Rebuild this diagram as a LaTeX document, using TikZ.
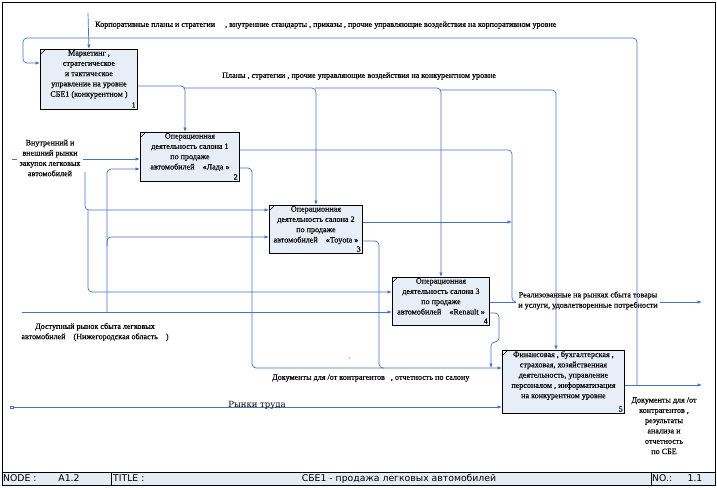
\documentclass[tikz,border=0pt]{standalone}
\usepackage{fontspec}
\setmainfont{Liberation Serif}[FakeBold=0.3]
\newfontfamily\barrafont{DejaVu Sans}
\newfontfamily\rotfont{DejaVu Serif}
\usetikzlibrary{arrows.meta,positioning}
\definecolor{azul}{RGB}{68,114,196}
\definecolor{cajafondo}{RGB}{232,238,248}
\definecolor{barrafondo}{RGB}{230,236,245}
\tikzset{
	caja/.style={draw, fill=cajafondo, line width=0.9pt, inner sep=0pt, anchor=north west},
	textocaja/.style={align=center, inner sep=1pt, anchor=north, font=\fontsize{8.1}{10.3}\selectfont},
	numcaja/.style={anchor=south east, inner sep=2pt, font=\fontsize{8.1}{9}\selectfont},
	etiqueta/.style={inner sep=2pt, font=\fontsize{8.1}{10.3}\selectfont},
	barra/.style={inner sep=1pt, font=\barrafont\fontsize{9.3}{10}\selectfont},
	linea/.style={draw=azul, line width=0.7pt},
	flecha/.style={linea, -{Latex[length=4.5pt,width=3.5pt]}},
	esq/.style={rounded corners=4pt}
}
\begin{document}
\begin{tikzpicture}[x=1pt, y=-1pt]
	\useasboundingbox (0,0) rectangle (717,487);
		% Marco
			\fill[barrafondo] (2,472) rectangle (715,485);
			\draw[line width=0.9pt] (2,2) rectangle (715,485);
			\draw[line width=0.9pt] (2,472) -- (715,472) (111,472) -- (111,485) (651,472) -- (651,485);
			\node[barra, anchor=west] (nodo) at (2,478.5) {NODE :};
			\node[barra] (nodonum) at (69,478.5) {A1.2};
			\node[barra, anchor=west] (tit) at (112,478.5) {TITLE :};
			\node[barra] (titulo) at (399,478.5) {СБЕ1 - продажа легковых автомобилей};
			\node[barra, anchor=west] (num) at (651,478.5) {NO.:};
			\node[barra] (numval) at (695,478.5) {1.1};
		% Bloques
			\node[caja, minimum width=97pt, minimum height=60pt] (b1) at (40,49) {};
			\node[caja, minimum width=99pt, minimum height=49pt] (b2) at (140,132) {};
			\node[caja, minimum width=93pt, minimum height=48pt] (b3) at (269,205) {};
			\node[caja, minimum width=97pt, minimum height=48pt] (b4) at (392,277) {};
			\node[caja, minimum width=122pt, minimum height=63pt] (b5) at (502,350) {};
			\foreach \b in {b1,b2,b3,b4,b5}
				\draw (\b.north west) ++(1,5) -- ++(4,-4);
			% Textos
				\node[textocaja] (t1) at (b1.north) {Маркетинг ,\\стратегическое\\и тактическое\\управление на уровне\\СБЕ1 (конкурентном )};
				\node[textocaja] (t2) at (b2.north) {Операционная\\деятельность салона 1\\по продаже\\автомобилей\quad«Лада »};
				\node[textocaja] (t3) at (b3.north) {Операционная\\деятельность салона 2\\по продаже\\автомобилей\quad«Toyota »};
				\node[textocaja] (t4) at (b4.north) {Операционная\\деятельность салона 3\\по продаже\\автомобилей\quad«Renault »};
				\node[textocaja] (t5) at (b5.north) {Финансовая , бухгалтерская ,\\страховая, хозяйственная\\деятельность, управление\\персоналом , информатизация\\на конкурентном уровне};
			% Numeros
				\node[numcaja] (n1) at (b1.south east) {1};
				\node[numcaja] (n2) at (b2.south east) {2};
				\node[numcaja] (n3) at (b3.south east) {3};
				\node[numcaja] (n4) at (b4.south east) {4};
				\node[numcaja] (n5) at (b5.south east) {5};
		% Controles
			\node[etiqueta, anchor=west] (lc1) at (93,25) {Корпоративные планы и стратегии\hspace{10pt}, внутренние стандарты , приказы , прочие управляющие воздействия на корпоративном уровне};
			\node[etiqueta, anchor=west] (lc2) at (220,76) {Планы , стратегии , прочие управляющие воздействия на конкурентном уровне};
			\draw[flecha] (88,13) -- (b1.north);
			\draw[flecha, esq] (b1.east |- 0,86) -| (185,0 |- b2.north);
			\draw[flecha, esq] (183,88) -| (b3.north);
			\draw[flecha, esq] (315,88) -| (b4.north);
			\draw[flecha, esq] (440,90) -| (556,0 |- b5.north);
		% Entradas
			% Mercados de compra
				\node[etiqueta, align=center] (le1) at (50,158) {Внутренний и\\внешний рынки\\закупок легковых\\автомобилей};
				\draw[linea] (12,159) -- (le1.west |- 0,159);
				\draw[flecha] (le1.east |- 0,159) -- (b2.west |- 0,159);
				\draw[flecha, esq] (85,172) |- (b3.west |- 0,210);
				\draw[flecha, esq] (88,210) |- (b4.west |- 0,292);
			% Mercado de venta
				\node[etiqueta, align=center] (le2) at (95,332) {Доступный рынок сбыта легковых\\автомобилей\hspace{8pt}(Нижегородская область\hspace{8pt})};
				\draw[flecha] (22,312) -- (b4.west |- 0,312);
				\draw[flecha, esq] (107,312) |- (b2.west |- 0,169);
				\draw[flecha, esq] (107,246) |- (b3.west |- 0,237);
			% Mercado de trabajo
				\coordinate (trab) at (12,407);
				\draw[linea] (trab) ++(-1.5,-1) rectangle ++(3,2);
				\draw[flecha] (trab) ++(1.5,0) -- (b5.west |- 0,407);
				\node[inner sep=0pt, font=\rotfont\fontsize{8.5}{10}\selectfont] (lrt) at (257,405) {Рынки труда};
		% Salidas
			% Bienes y servicios
				\node[etiqueta, align=center] (ls1) at (588,300.5) {Реализованные на рынках сбыта товары\\и услуги, удовлетворенные потребности};
				\draw[linea, esq] (b2.east |- 0,150) -| (512,302) -- (516,302);
				\draw[flecha] (b3.east |- 0,222) -- (512,222);
				\draw[linea] (b4.east |- 0,302) -- (ls1.west |- 0,302);
				\draw[flecha] (ls1.east |- 0,302) -- (702,302);
			% Documentos de salones
				\node[etiqueta, anchor=west] (ls2) at (270,378) {Документы для /от контрагентов\hspace{6pt}, отчетность по салону};
				\draw[flecha, esq] (b2.east |- 0,168) -| (252,368) -- (b5.west |- 0,368);
				\draw[linea, esq] (b3.east |- 0,241) -| (379,368) -- (384,368);
				\draw[flecha, esq] (b4.east |- 0,313) -| (499,342) -| (491,368);
				\fill (349,358) circle[radius=0.5];
			% Documentos de la SBE
				\node[etiqueta, align=center, anchor=north] (ls3) at (664,395) {Документы для /от\\контрагентов ,\\результаты\\анализа и\\отчетность\\по СБЕ};
				\draw[flecha] (b5.east |- 0,385) -- (702,385);
				\draw[flecha, esq] (637,385) -- (637,38) -- (23,38) -- (23,63) -- (b1.west |- 0,63);
\end{tikzpicture}
\end{document}
